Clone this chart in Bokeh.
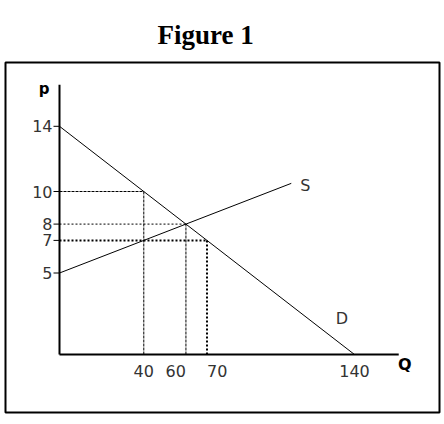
import math
from bokeh.plotting import figure
from bokeh.models import Range1d, ColumnDataSource
from bokeh.core.properties import value, field
from bokeh.embed import file_html
from bokeh.resources import INLINE

# ---- data ----
demand_q = [0, 140]
demand_p = [14, 0]
supply_q = [0, 110]
supply_p = [5, 10.5]

q_ticks = [40, 60, 70, 140]
q_tick_labels = ["40", "60", "70", "140"]
q_tick_align = ["center", "right", "left", "center"]
p_ticks = [5, 7, 8, 10, 14]
p_tick_labels = ["5", "7", "8", "10", "14"]

# guide points: (quantity, price)
guide_q = [40, 60, 70]
guide_p = [10, 8, 7]

axis_q_end = 161
axis_p_end = 16.55

d_label_pos = (134, 2.2)

# ---- figure ----
p = figure(width=444, height=424, output_backend="svg", toolbar_location=None,
           x_axis_type=None, y_axis_type=None,
           x_range=Range1d(-25.63, 180.35), y_range=Range1d(-3.558, 17.914),
           min_border_left=5, min_border_right=5, min_border_top=62, min_border_bottom=12,
           title="Figure 1")
p.grid.visible = False
p.outline_line_color = "black"
p.outline_line_width = 2
p.background_fill_color = "white"
p.border_fill_color = "white"

p.title.text_font = "Liberation Serif"
p.title.text_font_style = "bold"
p.title.text_font_size = "27px"
p.title.text_color = "black"
p.title.align = "left"
p.title.offset = 152
p.title.standoff = 26

# axes
p.segment(x0=[0], y0=[0], x1=[axis_q_end], y1=[0], line_color="black", line_width=2)
p.segment(x0=[0], y0=[0], x1=[0], y1=[axis_p_end], line_color="black", line_width=2)
p.ray(x=[0] * len(p_ticks), y=p_ticks, length=6, angle=math.pi, length_units="screen",
      line_color="black", line_width=1)

# guides
h_styles = [("3 1", 1), ("2 2", 1), ("2 2", 2)]
v_styles = [("3 1", 1), ("3 1", 1), ("2 2", 2)]
for qv, pv, (dash, w) in zip(guide_q, guide_p, h_styles):
    p.segment(x0=[0], y0=[pv], x1=[qv], y1=[pv], line_color="black",
              line_dash=dash, line_width=w)
for qv, pv, (dash, w) in zip(guide_q, guide_p, v_styles):
    p.segment(x0=[qv], y0=[0], x1=[qv], y1=[pv], line_color="black",
              line_dash=dash, line_width=w)

# curves
p.line(demand_q, demand_p, line_color="black", line_width=1)
p.line(supply_q, supply_p, line_color="black", line_width=1)

tick_color = "#333333"
tick_font = value("DejaVu Sans")

# tick labels
xsrc = ColumnDataSource(dict(x=q_ticks, y=[0] * len(q_ticks), t=q_tick_labels, a=q_tick_align))
p.text(x="x", y="y", text="t", source=xsrc, text_align=field("a"), text_baseline="middle",
       y_offset=16, text_font=tick_font, text_font_size="16px", text_color=tick_color)
p.text(x=[0] * len(p_ticks), y=p_ticks, text=p_tick_labels, text_align="right",
       text_baseline="middle", x_offset=-7, y_offset=0,
       text_font=tick_font, text_font_size="16px", text_color=tick_color)

# axis names
p.text(x=[0], y=[axis_p_end], text=["p"], text_align="right", text_baseline="middle",
       x_offset=-10, y_offset=4, text_font=value("DejaVu Sans"), text_font_style="bold",
       text_font_size="15px", text_color="black")
p.text(x=[axis_q_end], y=[0], text=["Q"], text_align="center", text_baseline="middle",
       x_offset=6, y_offset=10, text_font=value("DejaVu Sans"), text_font_style="bold",
       text_font_size="16px", text_color="black")

# curve labels
p.text(x=[supply_q[-1]], y=[supply_p[-1]], text=["S"], text_align="left", text_baseline="middle",
       x_offset=9, y_offset=2, text_font=tick_font, text_font_size="16px", text_color=tick_color)
p.text(x=[d_label_pos[0]], y=[d_label_pos[1]], text=["D"], text_align="center", text_baseline="middle",
       text_font=tick_font, text_font_size="16px", text_color=tick_color)

open("out.html", "w").write(file_html(p, INLINE))
